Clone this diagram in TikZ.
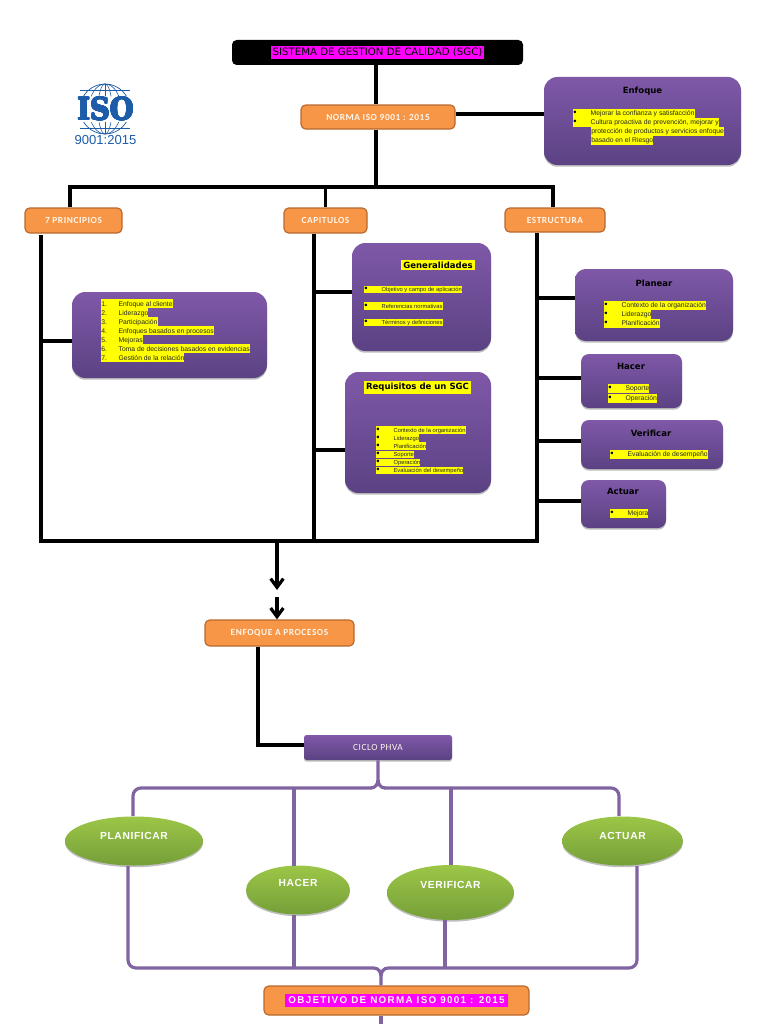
\documentclass[tikz,border=0pt]{standalone}
\usepackage{fontspec}
\usepackage[copies]{contour}
\setmainfont{Liberation Sans}
\newfontfamily\etiqfont[LetterSpace=6]{Carlito}
\newfontfamily\elipfont[LetterSpace=6]{Liberation Sans}
\newfontfamily\objfont[LetterSpace=13]{Liberation Sans}
\newfontfamily\negrafont{DejaVu Sans}
\newfontfamily\isofont{DejaVu Serif}
\usepackage{tikz}
\usetikzlibrary{shapes.geometric, arrows.meta, shadows}
\definecolor{naranja}{HTML}{F79646}
\definecolor{naranjaosc}{HTML}{B9692F}
\definecolor{moradoalto}{HTML}{7F58A8}
\definecolor{moradobajo}{HTML}{5B4283}
\definecolor{morado}{HTML}{8064A2}
\definecolor{verdealto}{HTML}{9CC647}
\definecolor{verdebajo}{HTML}{759F38}
\definecolor{azuliso}{HTML}{1C5CA8}
\definecolor{fucsia}{HTML}{FF00FF}
\definecolor{amarillo}{HTML}{FFFF00}
\contourlength{0.45pt}
\tikzstyle{sombra} = [drop shadow={shadow xshift=0pt, shadow yshift=-1.3pt, opacity=0.25, fill=black}]
\tikzstyle{naranjabox} = [rectangle, rounded corners=3.5pt, inner sep=0pt, draw=naranjaosc, line width=0.9pt, fill=naranja, text=white!92!orange, font=\etiqfont\bfseries\fontsize{7}{8}\selectfont]
\tikzstyle{moradobox} = [rectangle, rounded corners=10pt, inner sep=0pt, top color=moradoalto, bottom color=moradobajo, sombra]
\tikzstyle{elipse} = [ellipse, inner sep=0pt, top color=verdealto, bottom color=verdebajo, sombra, text=white, font=\elipfont\bfseries\fontsize{7.7}{8}\selectfont]
\tikzstyle{titulobox} = [inner sep=0pt, text=black, font=\negrafont\bfseries\fontsize{6.4}{8}\selectfont]
\tikzstyle{lista} = [anchor=west, inner xsep=0pt, inner ysep=0pt, fill=amarillo, text=black!85, text height=5pt, text depth=1.75pt, font=\fontsize{5.1}{6}\selectfont]
\tikzstyle{listachica} = [lista, text height=4.4pt, text depth=1.4pt, font=\fontsize{4.35}{5}\selectfont]
\tikzstyle{linea} = [line width=2.6pt, black]
\tikzstyle{flecha} = [linea, -{Straight Barb[length=6.5pt, width=9.5pt, line width=2.4pt]}]
\tikzstyle{llave} = [line width=2.4pt, morado]
\newcommand{\vin}{\makebox[13pt][l]{\textcolor{black}{\fontsize{7}{6}\selectfont\textbullet}}}
\newcommand{\num}[1]{\makebox[13pt][l]{#1}}
\begin{document}
\begin{tikzpicture}[x=0.75pt, y=-0.75pt]
        \useasboundingbox (0,0) rectangle (768,1024);

        \node (titulo) [rectangle, rounded corners=3.5pt, fill=black, minimum width=218.25pt, minimum height=18.75pt, inner sep=0pt] at (377.5,52.5) {\fboxsep=1.6pt\colorbox{fucsia}{\negrafont\fontsize{7.65}{8}\selectfont\textcolor{black}{SISTEMA DE GESTION DE CALIDAD (SGC)}}};
        \node (norma) [naranjabox, minimum width=115.5pt, minimum height=18pt] at (378,117) {NORMA ISO 9001 : 2015};
        \node (principios) [naranjabox, minimum width=72.75pt, minimum height=18.75pt] at (73.5,220.5) {7 PRINCIPIOS};
        \node (capitulos) [naranjabox, minimum width=62.25pt, minimum height=18.75pt] at (325.5,220.5) {CAPITULOS};
        \node (estructura) [naranjabox, minimum width=75pt, minimum height=18pt] at (555,220) {ESTRUCTURA};
        \node (procesos) [naranjabox, minimum width=111.75pt, minimum height=19.5pt] at (279.5,633) {ENFOQUE A PROCESOS};
        \node (objetivo) [naranjabox, minimum width=198.75pt, minimum height=21.75pt, font=\objfont\bfseries\fontsize{7.4}{8}\selectfont] at (396.5,1000.5) {\fboxsep=2.4pt\colorbox{fucsia}{OBJETIVO DE NORMA ISO 9001 : 2015}};

        \node (enfoque) [moradobox, minimum width=147.75pt, minimum height=66pt] at (642.5,121) {};
        \node (relacion) [moradobox, minimum width=146.25pt, minimum height=64.5pt] at (169.5,335) {};
        \node (generalidades) [moradobox, minimum width=104.25pt, minimum height=81pt] at (421.5,297) {};
        \node (requisitos) [moradobox, minimum width=109.5pt, minimum height=90.75pt] at (418,432.5) {};
        \node (planear) [moradobox, rounded corners=8pt, minimum width=118.5pt, minimum height=54pt] at (654,305) {};
        \node (hacerbox) [moradobox, rounded corners=6pt, minimum width=75.75pt, minimum height=40.5pt] at (631.5,381) {};
        \node (verificarbox) [moradobox, rounded corners=6pt, minimum width=106.5pt, minimum height=36.75pt] at (652,444.5) {};
        \node (actuarbox) [moradobox, rounded corners=6pt, minimum width=63.75pt, minimum height=36pt] at (623.5,504) {};
        \node (ciclo) [moradobox, rounded corners=2pt, minimum width=111pt, minimum height=18.75pt, text=white!92!orange, font=\etiqfont\fontsize{7}{8}\selectfont] at (378,747.5) {CICLO PHVA};

        \node (enfoqueT) [titulobox] at (642.5,91) {Enfoque};
        \node (generalT) [titulobox] at (438,265) {\fboxsep=1.5pt\colorbox{amarillo}{Generalidades}};
        \node (requisT) [titulobox] at (417.5,387.5) {\fboxsep=1.5pt\colorbox{amarillo}{Requisitos de un SGC}};
        \node (planearT) [titulobox] at (654,283) {Planear};
        \node (hacerT) [titulobox] at (631,366) {Hacer};
        \node (verificarT) [titulobox] at (651,433) {Verificar};
        \node (actuarT) [titulobox] at (623,491) {Actuar};

        \node (enf1) [lista] at (573,113.5) {\vin Mejorar la confianza y satisfacción};
        \node (enf2) [lista] at (573,122.5) {\vin Cultura proactiva de prevención, mejorar y};
        \node (enf3) [lista] at (591,131.5) {protección de productos y servicios enfoque};
        \node (enf4) [lista] at (591,140.5) {basado en el Riesgo};

        \foreach \txt [count=\i] in {Enfoque al cliente, Liderazgo, Participación, Enfoques basados en procesos, Mejoras, Toma de decisiones basados en evidencias, Gestión de la relación}
            \node (prin\i) [lista] at (101,295+8.98*\i) {\num{\i.}\txt};

        \foreach \txt/\yy [count=\i] in {Objetivo y campo de aplicación/289.5, Referencias normativas/306, Términos y definiciones/322.5}
            \node (gen\i) [listachica] at (364,\yy) {\vin\txt};

        \foreach \txt [count=\i] in {Contexto de la organización, Liderazgo, Planificación, Soporte, Operación, Evaluación del desempeño}
            \node (req\i) [listachica] at (376,422+8.1*\i) {\vin\txt};

        \foreach \txt [count=\i] in {Contexto de la organización, Liderazgo, Planificación}
            \node (pla\i) [lista] at (604,296+9*\i) {\vin\txt};

        \node (hac1) [lista] at (608,388.5) {\vin Soporte};
        \node (hac2) [lista] at (608,398) {\vin Operación};
        \node (ver1) [lista] at (610,454) {\vin Evaluación de desempeño};
        \node (act1) [lista] at (610,513.5) {\vin Mejora};

        \node (planificar) [elipse, minimum width=103.5pt, minimum height=36.75pt] at (134,841) {\raisebox{7.5pt}{PLANIFICAR}};
        \node (hacer) [elipse, minimum width=78pt, minimum height=36.75pt] at (298,890) {\raisebox{10.5pt}{HACER}};
        \node (verificar) [elipse, minimum width=95.25pt, minimum height=41.25pt] at (450.5,892.5) {\raisebox{11pt}{VERIFICAR}};
        \node (actuar) [elipse, minimum width=90.75pt, minimum height=36.75pt] at (622.5,841) {\raisebox{7.5pt}{ACTUAR}};

        \coordinate (bus) at (376,187);
        \coordinate (fondoA) at (41,541);
        \coordinate (fondoB) at (314,541);
        \coordinate (fondoC) at (537,541);
        \coordinate (cortaA) at (277,590);
        \coordinate (cortaB) at (277,597);
        \coordinate (codo) at (258,745);

        \draw [linea] (titulo.south -| bus) -- (norma.north -| bus);
        \draw [linea] (norma.south -| bus) -- (bus);
        \draw [linea] (norma.east |- 0,114) -- (enfoque.west |- 0,114);
        \draw [linea] (principios.north -| 70,0) -- (70,187) -- (553,187) -- (estructura.north -| 553,0);
        \draw [linea] (capitulos.north) -- (capitulos.north |- bus);
        \draw [linea] (41,235) -- (fondoA) -- (fondoC) -- (estructura.south -| fondoC);
        \draw [linea] (capitulos.south -| fondoB) -- (fondoB);
        \draw [linea] (41,341) -- (relacion.west |- 0,341);
        \draw [linea] (fondoB |- 0,292) -- (generalidades.west |- 0,292);
        \draw [linea] (fondoB |- 0,450) -- (requisitos.west |- 0,450);
        \draw [linea] (fondoC |- 0,298) -- (planear.west |- 0,298);
        \draw [linea] (fondoC |- 0,378) -- (hacerbox.west |- 0,378);
        \draw [linea] (fondoC |- 0,441) -- (verificarbox.west |- 0,441);
        \draw [linea] (fondoC |- 0,501) -- (actuarbox.west |- 0,501);
        \draw [flecha] (cortaA |- fondoA) -- (cortaA);
        \draw [flecha] (cortaB) -- (cortaB |- procesos.north);
        \draw [linea] (procesos.south -| codo) -- (codo) -- (ciclo.west |- codo);

        \coordinate (llaveA) at (378,788);
        \coordinate (llaveB) at (381,968);
        \draw [llave, rounded corners=6pt] (planificar.north -| 133,0) -- (133,788) -- (372,788);
        \draw [llave, rounded corners=6pt] (actuar.north -| 619,0) -- (619,788) -- (384,788);
        \draw [llave] (ciclo.south) -- (378,780) to[out=-90, in=0] (371,788);
        \draw [llave] (378,780) to[out=-90, in=180] (385,788);
        \draw [llave] (294,788) -- (294,866);
        \draw [llave] (451,788) -- (451,865);
        \draw [llave, rounded corners=6pt] (128,866) -- (128,968) -- (374,968);
        \draw [llave, rounded corners=6pt] (637,866) -- (637,968) -- (388,968);
        \draw [llave] (294,915) -- (294,968);
        \draw [llave] (445,920) -- (445,968);
        \draw [llave] (objetivo.north -| llaveB) -- (381,976) to[out=90, in=0] (374,968);
        \draw [llave] (381,976) to[out=90, in=180] (388,968);
        \draw [llave] (objetivo.south -| llaveB) -- (381,1024);

        \begin{scope}
            \clip (70,82) rectangle (140,96.5) (70,122) rectangle (140,136);
            \draw [azuliso, line width=0.55pt] (105,109) circle [radius=25];
            \draw [azuliso, line width=0.45pt] (105,109) ellipse [x radius=16, y radius=25];
            \draw [azuliso, line width=0.45pt] (105,109) ellipse [x radius=7, y radius=25];
            \draw [azuliso, line width=0.45pt] (105,84) -- (105,134);
            \draw [azuliso, line width=0.45pt] (80,90) -- (130,90) (80,128) -- (130,128);
        \end{scope}
        \node (isologo) [inner sep=0pt, text=azuliso, font=\isofont\bfseries\fontsize{20.5}{24}\selectfont] at (105.5,109) {\scalebox{1}[1.12]{\contour{azuliso}{ISO}}};
        \node (isoanio) [inner sep=0pt, text=azuliso, font=\fontsize{9.8}{11}\selectfont] at (105.5,140) {9001:2015};
    \end{tikzpicture}
\end{document}
